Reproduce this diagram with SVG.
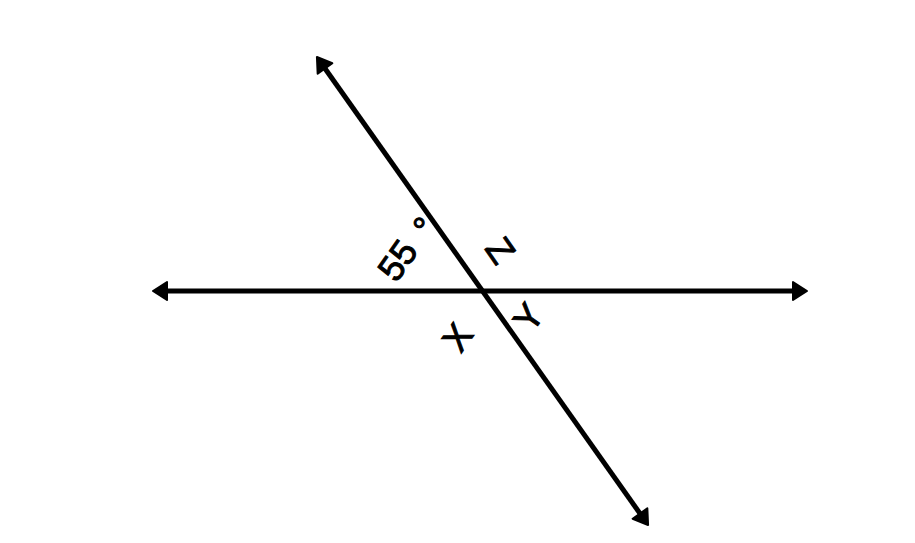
<svg xmlns="http://www.w3.org/2000/svg" width="915" height="543" viewBox="0 0 915 543">
<style>
.ln{stroke:#000;stroke-width:5;fill:none}
.lb{font-family:"Liberation Sans",Arial,sans-serif;font-size:36px;fill:#000;stroke:#000;stroke-width:1;text-anchor:middle}
</style>
<defs>
<marker id="ah" markerUnits="userSpaceOnUse" markerWidth="30" markerHeight="30" viewBox="-10 -15 30 30" refX="0" refY="0" orient="auto-start-reverse">
<path d="M10,0 L-4,-9 L-4,9 Z" fill="#000" stroke="#000" stroke-width="2" stroke-linejoin="round"/>
</marker>
</defs>
<rect width="915" height="543" fill="#fff"/>
<g id="connectors">
<line class="ln" x1="163" y1="291" x2="797" y2="291" marker-start="url(#ah)" marker-end="url(#ah)"/>
<line class="ln" x1="322.7" y1="65.2" x2="642.3" y2="516.8" marker-start="url(#ah)" marker-end="url(#ah)"/>
</g>
<g id="labels">
<text class="lb" transform="translate(397,260) rotate(-55)" dy=".36em">55</text>
<text class="lb" transform="translate(425,227) rotate(-55)" dy=".36em">°</text>
<text class="lb" transform="translate(501,250) rotate(55)" dy=".36em">Z</text>
<text class="lb" transform="translate(528,317) rotate(-55)" dy=".36em">Y</text>
<text class="lb" transform="translate(457,337) rotate(-55)" dy=".36em">X</text>
</g>
</svg>
